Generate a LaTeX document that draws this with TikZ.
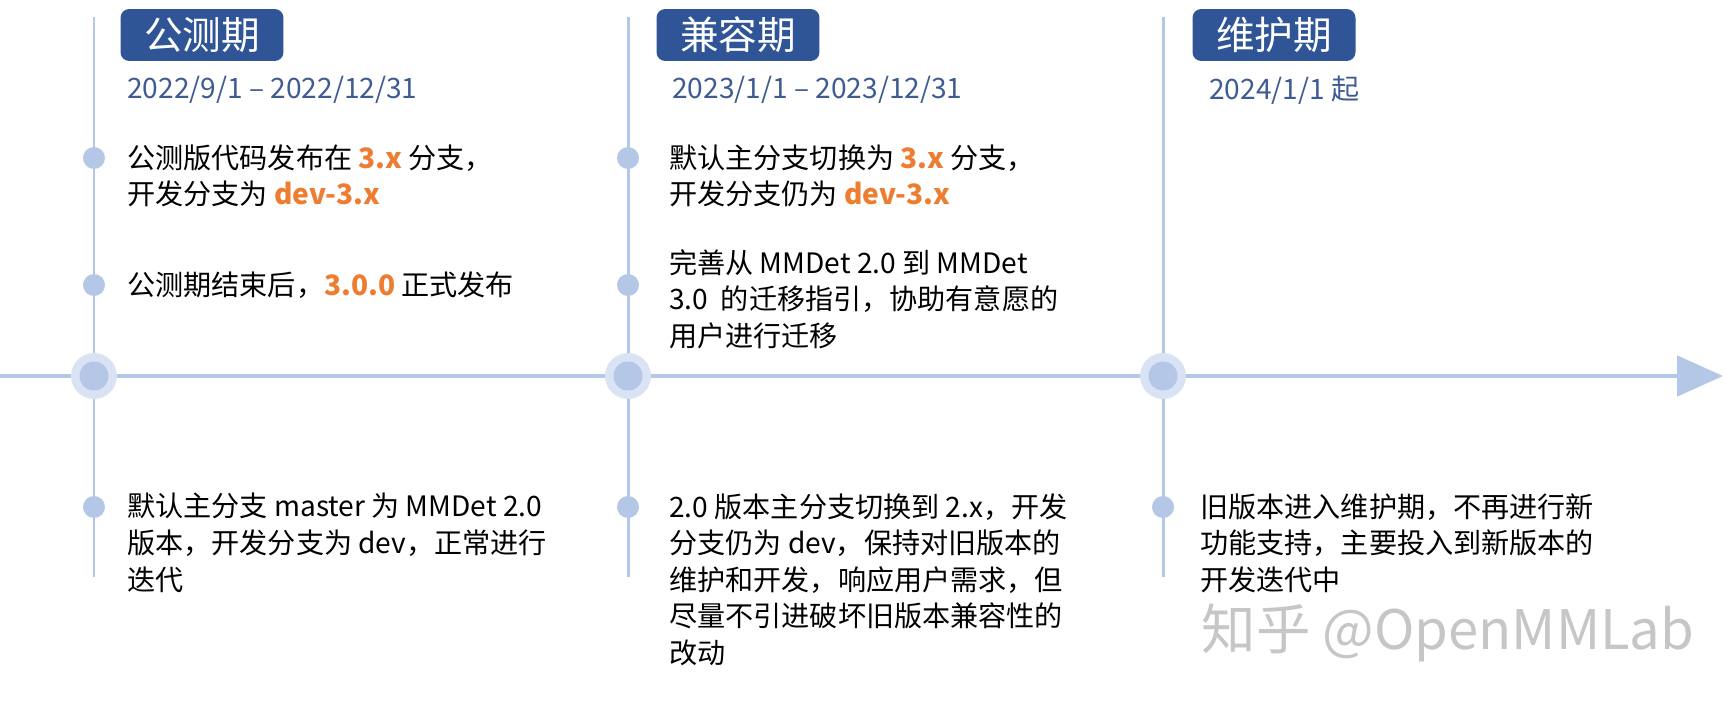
\documentclass[tikz,border=0pt]{standalone}
\usepackage{fontspec}
\setmainfont{Noto Sans CJK SC}
\usepackage{tikz}
\usetikzlibrary{arrows.meta, positioning}
\definecolor{phaseblue}{RGB}{47, 85, 151}
\definecolor{dateblue}{RGB}{62, 92, 145}
\definecolor{lineblue}{RGB}{180, 199, 231}
\definecolor{haloblue}{RGB}{218, 227, 243}
\definecolor{hlorange}{RGB}{237, 125, 49}
\newcommand{\hilite}[1]{\textcolor{hlorange}{\textbf{#1}}}

\tikzset{
  phasebox/.style={fill=phaseblue, text=white, rounded corners=5pt, inner sep=0pt,
    minimum width=3.26cm, minimum height=1.04cm, font=\fontsize{22}{26}\selectfont},
  datelabel/.style={anchor=west, inner sep=0pt, text=dateblue, font=\fontsize{16}{20}\selectfont},
  note/.style={anchor=north west, inner sep=0pt, align=left, font=\fontsize{16}{20.8}\selectfont},
  stem/.style={draw=lineblue, line width=1.7pt},
  timeaxis/.style={draw=lineblue, line width=2.8pt, -{Triangle[length=0.92cm, width=0.8cm]}},
  halo/.style={circle, fill=haloblue, inner sep=0pt, minimum size=0.92cm},
  hub/.style={circle, fill=lineblue, inner sep=0pt, minimum size=0.58cm},
  smalldot/.style={circle, fill=lineblue, inner sep=0pt, minimum size=0.44cm},
  watermark/.style={text=gray!45, font=\fontsize{31}{36}\selectfont}
}

\begin{document}
\begin{tikzpicture}[x=0.02cm, y=-0.02cm]
  \useasboundingbox (0,0) rectangle (1726,709);

  % stems and main axis
  \foreach \n/\x in {1/94, 2/628, 3/1163} {
    \coordinate (top\n) at (\x,17);
    \coordinate (bot\n) at (\x,577);
    \draw[stem] (top\n) -- (bot\n);
  }
  \coordinate (axisL) at (0,376);
  \coordinate (axisR) at (1723,376);
  \draw[timeaxis] (axisL) -- (axisR);
  \foreach \n/\x in {1/94, 2/628, 3/1163} {
    \node[halo] (halo\n) at (\x,376) {};
    \node[hub] (hub\n) at (halo\n) {};
  }

  % phase titles and dates
  \node[phasebox] (box1) at (202,35) {公测期};
  \node[phasebox] (box2) at (738,35) {兼容期};
  \node[phasebox] (box3) at (1274,35) {维护期};
  \node[datelabel] (date1) at (127,90) {2022/9/1 – 2022/12/31};
  \node[datelabel] (date2) at (672,90) {2023/1/1 – 2023/12/31};
  \node[datelabel] (date3) at (1209,90) {2024/1/1 起};

  % bullets above the axis
  \node[smalldot] (dot1a) at (94,158) {};
  \node[smalldot] (dot1b) at (94,285) {};
  \node[smalldot] (dot2a) at (628,158) {};
  \node[smalldot] (dot2b) at (628,285) {};
  \node[note] (note1a) at (127,144) {公测版代码发布在 \hilite{3.x} 分支，\\开发分支为 \hilite{dev-3.x}};
  \node[note] (note1b) at (127,271) {公测期结束后，\hilite{3.0.0} 正式发布};
  \node[note] (note2a) at (669,144) {默认主分支切换为 \hilite{3.x} 分支，\\开发分支仍为 \hilite{dev-3.x}};
  \node[note] (note2b) at (669,249) {完善从 MMDet 2.0 到 MMDet\\3.0\ \ 的迁移指引，协助有意愿的\\用户进行迁移};

  % bullets below the axis
  \node[smalldot] (dot1c) at (94,507) {};
  \node[smalldot] (dot2c) at (628,507) {};
  \node[smalldot] (dot3c) at (1163,507) {};
  \node[note] (note1c) at (127,493) {默认主分支 master 为 MMDet 2.0\\版本，开发分支为 dev，正常进行\\迭代};
  \node[note] (note2c) at (669,493) {2.0 版本主分支切换到 2.x，开发\\分支仍为 dev，保持对旧版本的\\维护和开发，响应用户需求，但\\尽量不引进破坏旧版本兼容性的\\改动};
  \node[note] (note3c) at (1200,493) {旧版本进入维护期，不再进行新\\功能支持，主要投入到新版本的\\开发迭代中};

  \node[watermark] (wm) at (1448,633) {知乎 @OpenMMLab};
\end{tikzpicture}
\end{document}
